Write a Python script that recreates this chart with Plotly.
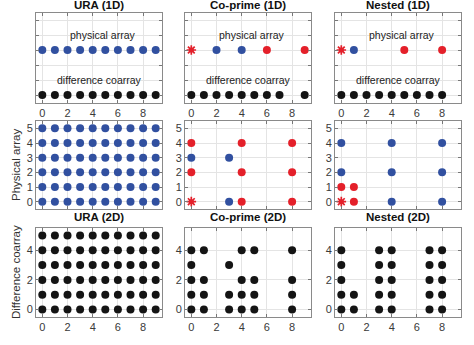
import plotly.graph_objects as go

# ---------------- data ----------------
xs_full = list(range(10))
ys_full = list(range(6))

# 1-D arrays (physical array drawn at level 3, coarray at level 0)
ura1d_phys_blue = list(range(10))
ura1d_coarray = list(range(10))

cop1d_star = [0]
cop1d_phys_blue = [2, 4]
cop1d_phys_red = [6, 9]
cop1d_coarray = [0, 1, 2, 3, 4, 5, 6, 7, 9]

nest1d_star = [0]
nest1d_phys_blue = [1]
nest1d_phys_red = [5, 8]
nest1d_coarray = [0, 1, 2, 3, 4, 5, 6, 7, 8]

phys_level = 3
coarray_level = 0

# 2-D physical arrays
ura2d_blue_x = [x for y in ys_full for x in xs_full]
ura2d_blue_y = [y for y in ys_full for x in xs_full]

cop2d_star = ([0], [0])
cop2d_blue_x = [0, 3, 3]
cop2d_blue_y = [3, 3, 0]
cop2d_red_x = [0, 4, 8, 0, 4, 8, 4, 8]
cop2d_red_y = [4, 4, 4, 2, 2, 2, 0, 0]

nest2d_star = ([0], [0])
nest2d_blue_x = [0, 4, 8, 0, 4, 8, 4, 8]
nest2d_blue_y = [4, 4, 4, 2, 2, 2, 0, 0]
nest2d_red_x = [0, 1, 1]
nest2d_red_y = [1, 1, 0]

# 2-D difference coarrays (rows listed per y)
ura2d_coarray_rows = {y: list(range(10)) for y in range(6)}
cop2d_coarray_rows = {
    4: [0, 1, 4, 5, 8],
    3: [0, 3],
    2: [0, 1, 4, 5, 8],
    1: [0, 1, 3, 4, 5, 8],
    0: [0, 1, 3, 4, 5, 8],
}
nest2d_coarray_rows = {
    4: [0, 3, 4, 7, 8],
    3: [0, 3, 4, 7, 8],
    2: [0, 3, 4, 7, 8],
    1: [0, 1, 3, 4, 7, 8],
    0: [0, 1, 3, 4, 7, 8],
}

col_titles_top = ["URA (1D)", "Co-prime (1D)", "Nested (1D)"]
col_titles_bottom = ["URA (2D)", "Co-prime (2D)", "Nested (2D)"]
x_ticks = [0, 2, 4, 6, 8]
y_ticks_mid = [0, 1, 2, 3, 4, 5]
y_ticks_bot = [0, 2, 4]

# ---------------- styling ----------------
BLUE = "#3150a0"
RED = "#e4202a"
BLACK = "#141414"
MS = 8
W, H = 474, 345

col_px = [(36, 162), (185, 311), (335, 461)]
row_px = [(12.5, 102.5), (121, 209), (228, 317)]

fig = go.Figure()


def ax_name(r, c):
    i = r * 3 + c + 1
    return ("x" if i == 1 else f"x{i}"), ("y" if i == 1 else f"y{i}")


def add_pts(r, c, xs, ys, color, symbol="circle"):
    xa, ya = ax_name(r, c)
    fig.add_trace(go.Scatter(x=xs, y=ys, mode="markers", xaxis=xa, yaxis=ya,
                             marker=dict(color=color, size=MS, symbol=symbol,
                                         line=dict(width=0)),
                             showlegend=False, hoverinfo="skip"))


def add_star(r, c, xs, ys):
    xa, ya = ax_name(r, c)
    fig.add_trace(go.Scatter(x=xs, y=ys, mode="markers", xaxis=xa, yaxis=ya,
                             marker=dict(color="#9a3070", size=5, symbol="circle"),
                             showlegend=False, hoverinfo="skip"))
    fig.add_trace(go.Scatter(x=xs, y=ys, mode="markers", xaxis=xa, yaxis=ya,
                             marker=dict(color=RED, size=8, symbol="asterisk-open",
                                         line=dict(color=RED, width=1.7)),
                             showlegend=False, hoverinfo="skip"))


def rows_to_xy(rows):
    xs, ys = [], []
    for y, xl in rows.items():
        for x in xl:
            xs.append(x)
            ys.append(y)
    return xs, ys


# Row 0: 1-D
add_pts(0, 0, ura1d_phys_blue, [phys_level] * len(ura1d_phys_blue), BLUE)
add_pts(0, 0, ura1d_coarray, [coarray_level] * len(ura1d_coarray), BLACK)

add_pts(0, 1, cop1d_phys_blue, [phys_level] * len(cop1d_phys_blue), BLUE)
add_pts(0, 1, cop1d_phys_red, [phys_level] * len(cop1d_phys_red), RED)
add_star(0, 1, cop1d_star, [phys_level])
add_pts(0, 1, cop1d_coarray, [coarray_level] * len(cop1d_coarray), BLACK)

add_pts(0, 2, nest1d_phys_blue, [phys_level] * len(nest1d_phys_blue), BLUE)
add_pts(0, 2, nest1d_phys_red, [phys_level] * len(nest1d_phys_red), RED)
add_star(0, 2, nest1d_star, [phys_level])
add_pts(0, 2, nest1d_coarray, [coarray_level] * len(nest1d_coarray), BLACK)

# Row 1: 2-D physical
add_pts(1, 0, ura2d_blue_x, ura2d_blue_y, BLUE)
add_pts(1, 1, cop2d_blue_x, cop2d_blue_y, BLUE)
add_pts(1, 1, cop2d_red_x, cop2d_red_y, RED)
add_star(1, 1, *cop2d_star)
add_pts(1, 2, nest2d_blue_x, nest2d_blue_y, BLUE)
add_pts(1, 2, nest2d_red_x, nest2d_red_y, RED)
add_star(1, 2, *nest2d_star)

# Row 2: 2-D coarrays
for c, rows in enumerate([ura2d_coarray_rows, cop2d_coarray_rows, nest2d_coarray_rows]):
    xs, ys = rows_to_xy(rows)
    add_pts(2, c, xs, ys, BLACK)

font_family = "Liberation Sans, Arial, Helvetica, sans-serif"
TICKC = "#3a3a3a"
layout = dict(width=W, height=H, margin=dict(l=0, r=0, t=0, b=0),
              paper_bgcolor="white", plot_bgcolor="white",
              font=dict(family=font_family, size=10.5, color=TICKC))

for r in range(3):
    for c in range(3):
        i = r * 3 + c + 1
        xk = "xaxis" if i == 1 else f"xaxis{i}"
        yk = "yaxis" if i == 1 else f"yaxis{i}"
        x0, x1 = col_px[c]
        y0, y1 = row_px[r]
        ytv = y_ticks_mid if r < 2 else y_ticks_bot
        layout[xk] = dict(domain=[x0 / W, x1 / W], range=[-0.5, 9.5],
                          anchor=("y" if i == 1 else f"y{i}"),
                          tickvals=x_ticks, showticklabels=(r != 1),
                          ticks="inside", ticklen=3, tickcolor="#777",
                          showline=True, linecolor="#8a8a8a", linewidth=1,
                          mirror="ticks", showgrid=True, gridcolor="#e4e4e4",
                          gridwidth=1, zeroline=False, fixedrange=True,
                          tickfont=dict(size=11, color=TICKC))
        layout[yk] = dict(domain=[1 - y1 / H, 1 - y0 / H], range=[-0.5, 5.5],
                          anchor=("x" if i == 1 else f"x{i}"),
                          tickvals=ytv, showticklabels=(r != 0),
                          ticks="inside", ticklen=3, tickcolor="#777",
                          showline=True, linecolor="#8a8a8a", linewidth=1,
                          mirror="ticks", showgrid=True, gridcolor="#e4e4e4",
                          gridwidth=1, zeroline=False, fixedrange=True,
                          tickfont=dict(size=11, color=TICKC))

annotations = []
for c in range(3):
    xc = (col_px[c][0] + col_px[c][1]) / 2 / W
    annotations.append(dict(text=f"<b>{col_titles_top[c]}</b>", x=xc, y=1 - 5 / H,
                            xref="paper", yref="paper", showarrow=False,
                            xanchor="center", yanchor="middle",
                            font=dict(size=11.5, color="#111")))
    annotations.append(dict(text=f"<b>{col_titles_bottom[c]}</b>", x=xc, y=1 - 217 / H,
                            xref="paper", yref="paper", showarrow=False,
                            xanchor="center", yanchor="middle",
                            font=dict(size=11.5, color="#111")))
    xa, ya = ax_name(0, c)
    annotations.append(dict(text="physical array", x=2, y=4, xref=xa, yref=ya,
                            showarrow=False, xanchor="left", yanchor="middle",
                            font=dict(size=10.5, color="#222")))
    annotations.append(dict(text="difference coarray", x=1, y=1, xref=xa, yref=ya,
                            showarrow=False, xanchor="left", yanchor="middle",
                            font=dict(size=10.5, color="#222")))

annotations.append(dict(text="Physical array", x=16 / W, y=1 - 165 / H,
                        xref="paper", yref="paper", showarrow=False, textangle=-90,
                        xanchor="center", yanchor="middle",
                        font=dict(size=11.5, color="#333")))
annotations.append(dict(text="Difference coarray", x=16 / W, y=1 - 272 / H,
                        xref="paper", yref="paper", showarrow=False, textangle=-90,
                        xanchor="center", yanchor="middle",
                        font=dict(size=11.5, color="#333")))
layout["annotations"] = annotations

fig.update_layout(**layout)
fig.write_html("out.html")
